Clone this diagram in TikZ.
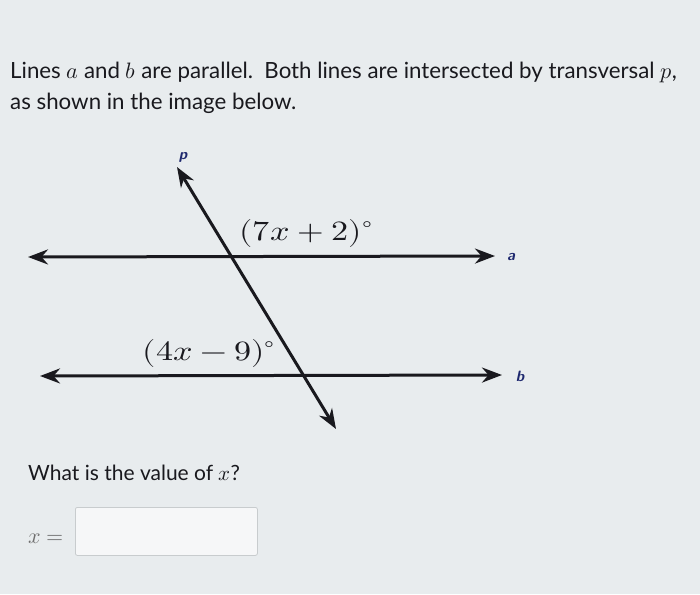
\documentclass[tikz,border=0pt]{standalone}
\usepackage{fontspec}
\setmainfont{Lato}
\usepackage{unicode-math}
\setmathfont{Latin Modern Math}
\usetikzlibrary{arrows.meta}
\definecolor{bg}{RGB}{232,236,238}
\definecolor{ink}{RGB}{25,25,30}
\definecolor{navy}{RGB}{30,40,110}
\definecolor{boxline}{RGB}{200,204,206}
\definecolor{graytext}{RGB}{110,110,110}
\tikzset{
  geoline/.style={line width=3pt, draw=ink, {Stealth[length=20pt,width=15pt]}-{Stealth[length=20pt,width=15pt]}},
  prose/.style={anchor=base west, inner sep=0pt, font=\fontsize{22.3}{26}\selectfont, text=ink},
  anglelab/.style={inner sep=0pt, xscale=1.22, font=\fontsize{28}{32}\selectfont, text=ink},
  linelab/.style={inner sep=0pt, font=\fontsize{15}{17}\selectfont\sffamily\bfseries\itshape, text=navy}
}
\begin{document}
\begin{tikzpicture}[x=1pt,y=-1pt]
\fill[bg] (0,0) rectangle (700,594);
\useasboundingbox (0,0) rectangle (700,594);
% text
\node[prose] (t1) at (10,78) {Lines $a$ and $b$ are parallel.\ \ Both lines are intersected by transversal $p$,};
\node[prose] (t2) at (10,109) {as shown in the image below.};
% lines
\coordinate (aL) at (28,257);
\coordinate (aR) at (495,256);
\coordinate (bL) at (40,376);
\coordinate (bR) at (502,375);
\coordinate (pT) at (177,167);
\coordinate (pB) at (336,429);
\draw[geoline] (aL) -- (aR);
\draw[geoline] (bL) -- (bR);
\draw[geoline] (pT) -- (pB);
\node[linelab] (la) at (511,257) {a};
\node[linelab] (lb) at (520,376) {b};
\node[linelab] (lp) at (183,157) {p};
\node[anglelab] (ang1) at (306,233) {$(7x+2)^{\circ}$};
\node[anglelab] (ang2) at (209,353) {$(4x-9)^{\circ}$};
% question
\node[prose, font=\fontsize{21}{24}\selectfont] (q) at (28,480) {What is the value of $x$?};
\node[anchor=base west, inner sep=0pt, font=\fontsize{22}{26}\selectfont, text=graytext] (xeq) at (28,543) {$x=$};
\node[draw=boxline, fill=white!60!bg, rounded corners=2pt, minimum width=182pt, minimum height=48pt, anchor=north west, line width=0.8pt] (ansbox) at (75,507) {};
\end{tikzpicture}
\end{document}
